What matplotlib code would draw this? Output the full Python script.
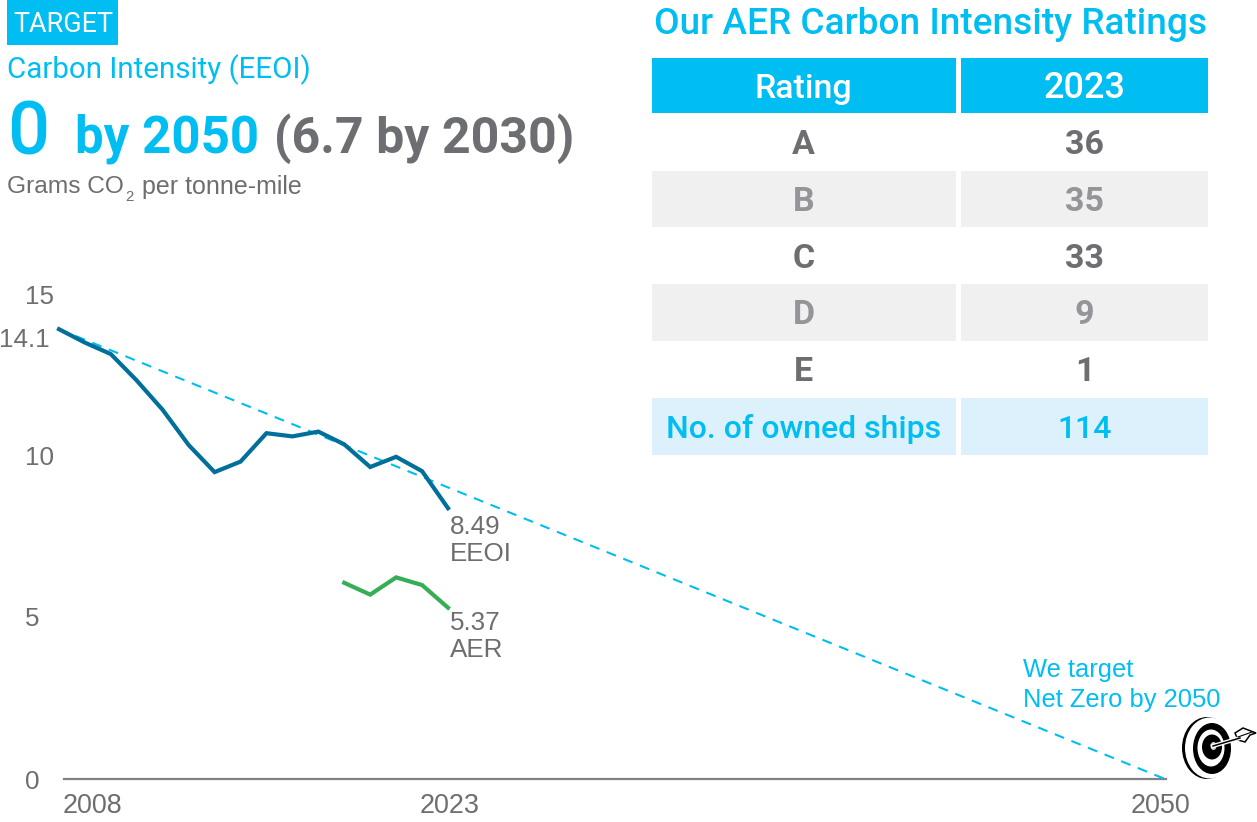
#!/usr/bin/env python3
# carbon intensity chart + AER ratings table
import numpy as np
import matplotlib
matplotlib.use('Agg')
import matplotlib.pyplot as plt
from matplotlib.patches import Rectangle, Ellipse, Polygon

years = np.arange(2008, 2024)
eeoi = [14.10, 13.68, 13.32, 12.49, 11.57, 10.47, 9.62, 9.95,
        10.84, 10.74, 10.89, 10.49, 9.78, 10.10, 9.65, 8.49]
aer_years = [2019, 2020, 2021, 2022, 2023]
aer = [6.15, 5.78, 6.32, 6.08, 5.37]
target_years = [2008, 2050]
target = [14.1, 0]
y_ticks = [0, 5, 10, 15]
x_ticks = [2008, 2023, 2050]

col_labels = ['Rating', '2023']
ratings = ['A', 'B', 'C', 'D', 'E']
ships = [36, 35, 33, 9, 1]
total_label = 'No. of owned ships'
total_ships = 114

CYAN = '#00BDF2'
PALE = '#DCF1FB'
BAND = '#F0F0F0'
DARK = '#6D6E71'
MID = '#939598'
NAVY = '#006F9A'
GREEN = '#36AE55'
HEAD = 'Roboto'
BODY = 'Liberation Sans'

W, H = 1257, 822
fig = plt.figure(figsize=(W / 100, H / 100), dpi=100)

# overlay in pixel coords for the text and table layout
bg = fig.add_axes([0, 0, 1, 1])
bg.set_xlim(0, W)
bg.set_ylim(H, 0)
bg.axis('off')

# chart axes, the x axis is not even in the original (2023-2050 is stretched)
x_px = [59, 448, 1165]
ax = fig.add_axes([x_px[0] / W, (H - 779) / H, (x_px[2] - x_px[0]) / W, 31.9 * 15 / H])
ax.patch.set_alpha(0)
ax.set_xscale('function', functions=(lambda v: np.interp(v, x_ticks, x_px),
                                     lambda p: np.interp(p, x_px, x_ticks)))
ax.set_xlim(2008, 2050)
ax.set_ylim(0, 15)
for s in ax.spines.values():
    s.set_visible(False)
ax.set_xticks([])
ax.set_yticks([])

ax.plot(target_years, target, color=CYAN, lw=1.5, dashes=(4.8, 3.8), clip_on=False, zorder=2)
ax.plot(years, eeoi, color=NAVY, lw=3, solid_joinstyle='miter', clip_on=False, zorder=3)
ax.plot(aer_years, aer, color=GREEN, lw=3, solid_joinstyle='miter', clip_on=False, zorder=3)

bg.plot([64, 1166], [779, 779], color='#808285', lw=1.6)

def put(x, y, s, size, color=DARK, family=BODY, weight='normal', ha='left', va='center'):
    return bg.text(x, y, s, fontsize=size * 0.72, color=color, family=family,
                   weight=weight, ha=ha, va=va)

# y labels sit a little above their true position in the original
for v, py in zip(y_ticks, [782, 619, 458, 297]):
    put(25, py, str(v), 26)
put(50, 340, '14.1', 26, ha='right')
for v, px in zip(x_ticks, [92, 450, 1161]):
    put(px, 806, str(v), 27, ha='center')

put(450, 527, '%.2f' % eeoi[-1], 26)
put(450, 554, 'EEOI', 26)
put(450, 623, '%.2f' % aer[-1], 26)
put(450, 650, 'AER', 26)
put(1023, 670, 'We target', 25.5, color=CYAN)
put(1023, 700, 'Net Zero by 2050', 25.5, color=CYAN)

# header block
bg.add_patch(Rectangle((7, 0), 111, 45, fc=CYAN, ec='none'))
put(13, 25, 'TARGET', 27, color='white', family=HEAD)
put(7, 70, 'Carbon Intensity (EEOI)', 29.5, color=CYAN, family=HEAD)
put(7, 134, '0', 74, color=CYAN, family=HEAD, weight='medium')
put(75, 139, 'by 2050', 51, color=CYAN, family=HEAD, weight='bold')
put(274, 139, '(6.7 by 2030)', 50, family=HEAD, weight='bold')
put(7, 187, 'Grams CO', 24.5)
put(125, 197, '2', 15)
put(142, 187, 'per tonne-mile', 25)

# table
put(654, 24, 'Our AER Carbon Intensity Ratings', 37, color=CYAN, family=HEAD, weight='medium')
col_x = [(652, 303.5), (961, 247)]
row_top = [114, 171, 228, 284, 341]
for (x0, w), lab, fs in zip(col_x, col_labels, [34, 36]):
    bg.add_patch(Rectangle((x0, 58), w, 55.5, fc=CYAN, ec='none'))
    put(x0 + w / 2, 89, lab, fs, color='white', family=HEAD, weight='medium', ha='center')
for i, (r, n) in enumerate(zip(ratings, ships)):
    col = DARK if i % 2 == 0 else MID
    if i % 2:
        for x0, w in col_x:
            bg.add_patch(Rectangle((x0, row_top[i]), w, 56.5, fc=BAND, ec='none'))
    put(col_x[0][0] + col_x[0][1] / 2, row_top[i] + 31, r, 34, color=col, family=HEAD, weight='bold', ha='center')
    put(col_x[1][0] + col_x[1][1] / 2, row_top[i] + 31, str(n), 34, color=col, family=HEAD, weight='bold', ha='center')
for x0, w in col_x:
    bg.add_patch(Rectangle((x0, 398), w, 56.5, fc=PALE, ec='none'))
put(col_x[0][0] + col_x[0][1] / 2, 429, total_label, 32, color=CYAN, family=HEAD, weight='medium', ha='center')
put(col_x[1][0] + col_x[1][1] / 2, 429, str(total_ships), 32, color=CYAN, family=HEAD, weight='medium', ha='center')

# bullseye icon
for cx, cy, rw, rh, c in [(1207, 748, 50, 62, 'black'), (1209.5, 748, 49, 61, 'white'),
                          (1212, 748.5, 38, 51, 'black'), (1211, 748, 27, 37, 'white'),
                          (1212, 747, 20, 25, 'black'), (1213.5, 746, 6, 8, '#d0d0d0')]:
    bg.add_patch(Ellipse((cx, cy), rw, rh, fc=c, ec='none'))
bg.plot([1213, 1240], [746, 738], color='white', lw=3.0)
bg.plot([1213, 1240], [746, 738], color='black', lw=1.1)
bg.add_patch(Polygon([(1235, 733), (1243, 728), (1256, 733), (1250, 735), (1245, 742), (1238, 740)],
                     fc='white', ec='black', lw=1.1))
bg.plot([1238, 1252], [737, 732], color='black', lw=0.8)

fig.savefig('out.png', dpi=100)
